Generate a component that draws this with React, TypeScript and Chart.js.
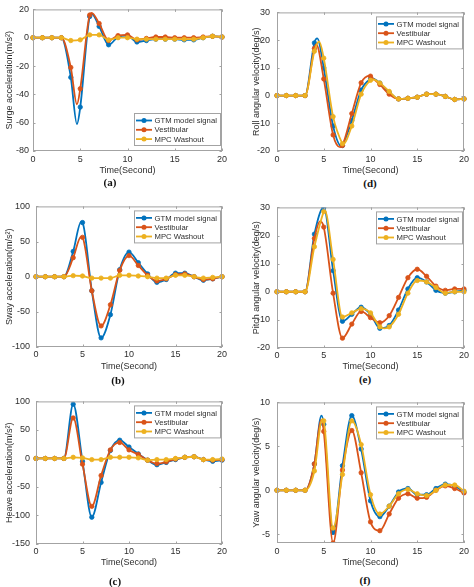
import React, { useEffect, useRef } from 'react';
import { Chart, registerables } from 'chart.js';

Chart.register(...registerables);

// ---- shared axis data ----
const SECONDS = [0, 1, 2, 3, 4, 5, 6, 7, 8, 9, 10, 11, 12, 13, 14, 15, 16, 17, 18, 19, 20];
const TIME_TICKS = [0, 5, 10, 15, 20];
const TIME_RANGE = [0, 20];
const SERIES_NAMES = ['GTM model signal', 'Vestibular', 'MPC Washout'];

type Knot = [number, number];

// ---- (a) surge acceleration ----
const SURGE_RANGE = [-80, 20];
const SURGE_TICKS = [-80, -60, -40, -20, 0, 20];
const SURGE_GTM = [0, 0, 0, 0, -28, -49, 15, 8, -5, 0.5, 1.5, -3, -2, -1, -1, -1, -1.5, -1.5, 0, 1, 0.5];
const SURGE_GTM_KNOTS: Knot[] = [[4.65, -61], [6.2, 16.8]];
const SURGE_VES = [0, 0, 0, 0, -21, -36, 16, 10, -2, 1.5, 2, -1.5, -0.5, 0.5, 0.5, 0, 0, 0, 0.5, 1, 0.5];
const SURGE_VES_KNOTS: Knot[] = [[4.65, -47], [6.2, 17.5]];
const SURGE_MPC = [0, 0, 0, 0, -2, -1.5, 2, 2, -1.5, 0, 0, -1, -1, -1, -1, -1, -1, -1, 0, 1, 0.5];
const SURGE_MPC_KNOTS: Knot[] = [];

// ---- (b) sway acceleration ----
const SWAY_RANGE = [-100, 100];
const SWAY_TICKS = [-100, -50, 0, 50, 100];
const SWAY_GTM = [0, 0, 0, 0, 36, 77, -20, -87, -54, 10, 35, 20, 4, -8, -4, 5, 5, 0, -5, -3, 0];
const SWAY_GTM_KNOTS: Knot[] = [[4.85, 78]];
const SWAY_VES = [0, 0, 0, 0, 27, 56, -20, -70, -40, 9, 30, 16, 2, -6, -3, 3, 4, 0, -4, -3, 0];
const SWAY_VES_KNOTS: Knot[] = [[4.85, 57]];
const SWAY_MPC = [0, 0, 0, 0, 1.5, 1, -2, -2, -2, 2, 2, 1, 0, -2, -2, 2, 2, 0, -2, -1, 0];
const SWAY_MPC_KNOTS: Knot[] = [];

// ---- (c) heave acceleration ----
const HEAVE_RANGE = [-150, 100];
const HEAVE_TICKS = [-150, -100, -50, 0, 50, 100];
const HEAVE_GTM = [0, 0, 0, 0, 95, -5, -103, -42, 14, 32, 20, 8, -3, -11, -7, -2, 2, 3, -2, -5, -3];
const HEAVE_GTM_KNOTS: Knot[] = [];
const HEAVE_VES = [0, 0, 0, 0, 71, -10, -84, -30, 15, 28, 15, 7, -3, -9, -6, -1, 2, 3, -2, -3, -2];
const HEAVE_VES_KNOTS: Knot[] = [];
const HEAVE_MPC = [0, 0, 0, 0, 2, 1, -2, -2, 2, 2, 2, 1, -3, -2, -2, 0, 2, 3, -2, -2, -1];
const HEAVE_MPC_KNOTS: Knot[] = [];

// ---- (d) roll angular velocity ----
const ROLL_RANGE = [-20, 30];
const ROLL_TICKS = [-20, -10, 0, 10, 20, 30];
const ROLL_GTM = [0, 0, 0, 0, 19, 10, -11, -18, -9, 2, 6, 4.5, 1.2, -1.2, -1, -0.6, 0.5, 0.5, -0.3, -1.4, -1.2];
const ROLL_GTM_KNOTS: Knot[] = [[4.3, 20.6], [6.9, -18.3], [10.2, 6.2]];
const ROLL_VES = [0, 0, 0, 0, 17, 6, -14.2, -18, -6.5, 4.6, 7, 4, 0.5, -1.2, -1, -0.6, 0.5, 0.5, -0.3, -1.4, -1.2];
const ROLL_VES_KNOTS: Knot[] = [[4.2, 18.5], [6.75, -18.6], [9.95, 7.2]];
const ROLL_MPC = [0, 0, 0, 0, 16, 13.5, -7.6, -17.4, -11, 0.5, 5.5, 4.5, 1.5, -1.2, -1, -0.6, 0.5, 0.5, -0.3, -1.4, -1.2];
const ROLL_MPC_KNOTS: Knot[] = [[4.5, 19.5], [7.05, -17.6], [10.3, 5.8]];

// ---- (e) pitch angular velocity ----
const PITCH_RANGE = [-20, 30];
const PITCH_TICKS = [-20, -10, 0, 10, 20, 30];
const PITCH_GTM = [0, 0, 0, 0, 20.5, 30, 7.5, -10.5, -8, -5.5, -8, -13, -12, -6.5, 1, 5, 3.5, 0.5, -0.5, 0, 0.5];
const PITCH_GTM_KNOTS: Knot[] = [];
const PITCH_VES = [0, 0, 0, 0, 19, 23, -0.5, -16.5, -11.5, -7, -9.2, -11, -8.5, -2, 5, 8, 5.5, 2, 0.5, 1, 1];
const PITCH_VES_KNOTS: Knot[] = [[4.6, 25]];
const PITCH_MPC = [0, 0, 0, 0, 16, 28.5, 11.5, -9, -7.5, -6, -7.5, -12.5, -12.5, -8, -0.5, 4, 3.5, 1.5, -0.5, 0, 0];
const PITCH_MPC_KNOTS: Knot[] = [[5.1, 29], [11.5, -13]];

// ---- (f) yaw angular velocity ----
const YAW_RANGE = [-6, 10];
const YAW_TICKS = [-5, 0, 5, 10];
const YAW_GTM = [0, 0, 0, 0, 3, 7.5, -4.8, 2.8, 8.5, 4.7, -1.2, -3, -1.8, -0.2, 0.2, -0.5, -0.5, 0.2, 0.7, 0.5, -0.2];
const YAW_GTM_KNOTS: Knot[] = [[4.75, 8.5]];
const YAW_VES = [0, 0, 0, 0, 3, 6.7, -6, 2.3, 6.8, 2, -3.6, -4.6, -2.7, -0.9, -0.4, -0.9, -0.8, 0, 0.5, 0.2, -0.3];
const YAW_VES_KNOTS: Knot[] = [[4.7, 8]];
const YAW_MPC = [0, 0, 0, 0, 2.2, 7.9, -4.3, 1.8, 7.9, 5.2, -0.5, -2.7, -1.8, -0.4, 0.1, -0.4, -0.6, 0, 0.6, 0.6, -0.1];
const YAW_MPC_KNOTS: Knot[] = [[4.85, 8.1]];

interface PanelSpec {
  id: string;
  tag: string;
  yTitle: string;
  range: number[];
  ticks: number[];
  series: [number[], Knot[]][];
  legend: 'top' | 'bottom';
}

const PANELS: PanelSpec[] = [
  { id: 'a', tag: '(a)', yTitle: 'Surge acceleration(m/s²)', range: SURGE_RANGE, ticks: SURGE_TICKS,
    series: [[SURGE_GTM, SURGE_GTM_KNOTS], [SURGE_VES, SURGE_VES_KNOTS], [SURGE_MPC, SURGE_MPC_KNOTS]], legend: 'bottom' },
  { id: 'b', tag: '(b)', yTitle: 'Sway acceleration(m/s²)', range: SWAY_RANGE, ticks: SWAY_TICKS,
    series: [[SWAY_GTM, SWAY_GTM_KNOTS], [SWAY_VES, SWAY_VES_KNOTS], [SWAY_MPC, SWAY_MPC_KNOTS]], legend: 'top' },
  { id: 'c', tag: '(c)', yTitle: 'Heave acceleration(m/s²)', range: HEAVE_RANGE, ticks: HEAVE_TICKS,
    series: [[HEAVE_GTM, HEAVE_GTM_KNOTS], [HEAVE_VES, HEAVE_VES_KNOTS], [HEAVE_MPC, HEAVE_MPC_KNOTS]], legend: 'top' },
  { id: 'd', tag: '(d)', yTitle: 'Roll angular velocity(deg/s)', range: ROLL_RANGE, ticks: ROLL_TICKS,
    series: [[ROLL_GTM, ROLL_GTM_KNOTS], [ROLL_VES, ROLL_VES_KNOTS], [ROLL_MPC, ROLL_MPC_KNOTS]], legend: 'top' },
  { id: 'e', tag: '(e)', yTitle: 'Pitch angular velocity(deg/s)', range: PITCH_RANGE, ticks: PITCH_TICKS,
    series: [[PITCH_GTM, PITCH_GTM_KNOTS], [PITCH_VES, PITCH_VES_KNOTS], [PITCH_MPC, PITCH_MPC_KNOTS]], legend: 'top' },
  { id: 'f', tag: '(f)', yTitle: 'Yaw angular velocity(deg/s)', range: YAW_RANGE, ticks: YAW_TICKS,
    series: [[YAW_GTM, YAW_GTM_KNOTS], [YAW_VES, YAW_VES_KNOTS], [YAW_MPC, YAW_MPC_KNOTS]], legend: 'top' },
];

// ---- layout & style ----
interface Frame {
  left: number; top: number; width: number; height: number;
  area: { l: number; r: number; t: number; b: number };
  yTitleX: number; yTickPad: number; xTickPad: number;
  tagX: number; tagY: number;
}

const FRAMES: Record<string, Frame> = {
  a: { left: 0, top: 0, width: 237, height: 176, area: { l: 33, r: 222, t: 7, b: 151 }, yTitleX: 10, yTickPad: 4, xTickPad: 3.6, tagX: 110, tagY: 182 },
  d: { left: 237, top: 0, width: 237, height: 176, area: { l: 277, r: 464, t: 7, b: 151 }, yTitleX: 20, yTickPad: 7, xTickPad: 3.6, tagX: 370, tagY: 183 },
  b: { left: 0, top: 195, width: 237, height: 177, area: { l: 36, r: 222, t: 204, b: 347 }, yTitleX: 10, yTickPad: 6, xTickPad: 2.4, tagX: 118, tagY: 380 },
  e: { left: 237, top: 195, width: 237, height: 177, area: { l: 277, r: 464, t: 204, b: 348 }, yTitleX: 20, yTickPad: 7, xTickPad: 2.6, tagX: 365, tagY: 379 },
  c: { left: 0, top: 390, width: 237, height: 178, area: { l: 36, r: 222, t: 401, b: 544 }, yTitleX: 10, yTickPad: 6, xTickPad: 2.3, tagX: 115, tagY: 581 },
  f: { left: 237, top: 390, width: 237, height: 178, area: { l: 277, r: 464, t: 401, b: 543 }, yTitleX: 20, yTickPad: 7, xTickPad: 3.6, tagX: 365, tagY: 580 },
};

const COLORS = ['#0072BD', '#D95319', '#EDB120'];
const DRAW_ORDER = [2, 1, 0];
const INK = '#2e2e2e';
const FRAME_GRAY = '#a3a3a3';
const SANS = '"Liberation Sans", Arial, Helvetica, sans-serif';
const SERIF = '"Liberation Serif", "Times New Roman", serif';

function toPoints(values: number[], knots: Knot[]) {
  const pts = SECONDS.map((t, i) => ({ x: t, y: values[i] }));
  for (const [x, y] of knots) pts.push({ x, y });
  pts.sort((p, q) => p.x - q.x);
  return pts;
}

function boxAndLegend(legendPos: 'top' | 'bottom') {
  return {
    id: 'boxAndLegend',
    afterDraw(chart: any) {
      const { ctx, chartArea: a, scales } = chart;
      ctx.save();
      // axes box
      ctx.strokeStyle = FRAME_GRAY;
      ctx.lineWidth = 1;
      ctx.strokeRect(a.left + 0.5, a.top + 0.5, a.right - a.left - 1, a.bottom - a.top - 1);
      // inward tick marks on all four sides
      const tl = 2.5;
      ctx.beginPath();
      for (const t of scales.x.ticks) {
        const px = Math.round(scales.x.getPixelForValue(t.value)) + 0.5;
        ctx.moveTo(px, a.bottom); ctx.lineTo(px, a.bottom - tl);
        ctx.moveTo(px, a.top); ctx.lineTo(px, a.top + tl);
      }
      for (const t of scales.y.ticks) {
        const py = Math.round(scales.y.getPixelForValue(t.value)) + 0.5;
        ctx.moveTo(a.left, py); ctx.lineTo(a.left + tl, py);
        ctx.moveTo(a.right, py); ctx.lineTo(a.right - tl, py);
      }
      ctx.stroke();

      // legend box
      const W = 87, H = 33;
      const x0 = a.right - 1 - W;
      const y0 = legendPos === 'top' ? a.top + 4 : a.bottom - 5 - H;
      ctx.fillStyle = '#ffffff';
      ctx.fillRect(x0, y0, W, H);
      ctx.lineWidth = 1;
      ctx.strokeStyle = FRAME_GRAY;
      ctx.strokeRect(x0 + 0.5, y0 + 0.5, W - 1, H - 1);
      ctx.font = `7.7px ${SANS}`;
      ctx.textBaseline = 'middle';
      ctx.textAlign = 'left';
      chart.data.datasets.forEach((ds: any, i: number) => {
        const yy = y0 + 7.5 + i * 9.3;
        ctx.strokeStyle = ds.borderColor;
        ctx.lineWidth = 1.8;
        ctx.beginPath();
        ctx.moveTo(x0 + 2, yy);
        ctx.lineTo(x0 + 18, yy);
        ctx.stroke();
        ctx.fillStyle = ds.borderColor;
        ctx.beginPath();
        ctx.arc(x0 + 10, yy, 2.5, 0, Math.PI * 2);
        ctx.fill();
        ctx.fillStyle = INK;
        ctx.fillText(ds.label, x0 + 20.5, yy + 0.5);
      });
      ctx.restore();
    },
  };
}

function Panel({ spec }: { spec: PanelSpec }) {
  const ref = useRef<HTMLCanvasElement>(null);
  const f = FRAMES[spec.id];

  useEffect(() => {
    const canvas = ref.current;
    if (!canvas) return;
    const padTop = f.area.t - f.top;
    const padRight = f.left + f.width - f.area.r;
    const yWidth = f.area.l - f.left;
    const xHeight = f.top + f.height - f.area.b;
    const font = { family: SANS, size: 9 };

    const chart = new Chart(canvas, {
      type: 'line',
      data: {
        datasets: spec.series.map(([values, knots], i) => ({
          label: SERIES_NAMES[i],
          data: toPoints(values, knots),
          borderColor: COLORS[i],
          backgroundColor: COLORS[i],
          borderWidth: 1.8,
          pointBackgroundColor: COLORS[i],
          pointBorderColor: COLORS[i],
          pointBorderWidth: 0.8,
          pointRadius: (c: any) => (c.raw && Number.isInteger(c.raw.x) ? 2.2 : 0),
          pointHoverRadius: 0,
          cubicInterpolationMode: 'monotone',
          clip: { left: 4, right: 4, top: 0, bottom: 0 },
          order: DRAW_ORDER[i],
        })) as any,
      },
      options: {
        animation: false,
        responsive: false,
        devicePixelRatio: 1,
        events: [],
        layout: { padding: { left: 0, right: padRight, top: padTop, bottom: 0 } },
        plugins: { legend: { display: false }, tooltip: { enabled: false } },
        scales: {
          x: {
            type: 'linear',
            min: TIME_RANGE[0],
            max: TIME_RANGE[1],
            grid: { display: false, drawTicks: false },
            border: { display: false },
            ticks: { padding: f.xTickPad, font, color: INK, maxRotation: 0, autoSkip: false },
            title: { display: true, text: 'Time(Second)', font, color: INK, padding: { top: 0, bottom: 0 } },
            afterBuildTicks: (s: any) => { s.ticks = TIME_TICKS.map((v) => ({ value: v })); },
            afterFit: (s: any) => { s.height = xHeight; },
          },
          y: {
            type: 'linear',
            min: spec.range[0],
            max: spec.range[1],
            grid: { display: false, drawTicks: false },
            border: { display: false },
            ticks: { padding: f.yTickPad, font, color: INK, autoSkip: false },
            title: { display: true, text: spec.yTitle, font, color: INK, padding: { top: f.yTitleX - 5.4, bottom: 0 } },
            afterBuildTicks: (s: any) => { s.ticks = spec.ticks.map((v) => ({ value: v })); },
            afterFit: (s: any) => { s.width = yWidth; },
          },
        },
      } as any,
      plugins: [boxAndLegend(spec.legend)],
    });
    return () => chart.destroy();
  }, []);

  return (
    <>
      <div style={{ position: 'absolute', left: f.left, top: f.top, width: f.width, height: f.height }}>
        <canvas ref={ref} width={f.width} height={f.height} style={{ display: 'block', width: f.width, height: f.height }} />
      </div>
      <div
        style={{
          position: 'absolute', left: f.tagX, top: f.tagY, transform: 'translate(-50%, -50%)',
          fontFamily: SERIF, fontWeight: 'bold', fontSize: 11, lineHeight: 1, color: '#111', whiteSpace: 'nowrap',
        }}
      >
        {spec.tag}
      </div>
    </>
  );
}

export default function App() {
  return (
    <div style={{ position: 'absolute', left: 0, top: 0, width: 474, height: 587, background: '#ffffff', overflow: 'hidden' }}>
      {PANELS.map((p) => (
        <Panel key={p.id} spec={p} />
      ))}
    </div>
  );
}
